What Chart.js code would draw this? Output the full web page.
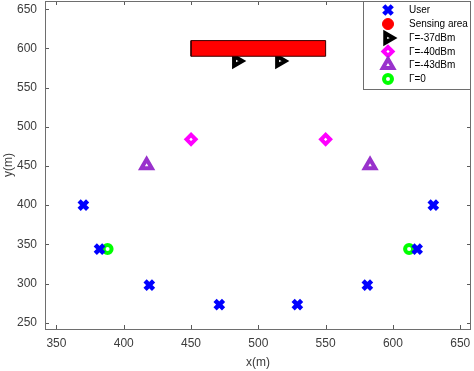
<!doctype html>
<html>
<head>
<meta charset="utf-8">
<script src="https://cdn.jsdelivr.net/npm/chart.js"></script>
<style>
  html, body { margin: 0; padding: 0; background: #fff; }
  #wrap { width: 474px; height: 371px; }
</style>
</head>
<body>
<div id="wrap"><canvas id="posChart"></canvas></div>
<script>
// positions in metres
const userX = [370, 382, 419, 471, 529, 581, 618, 630];
const userY = [400, 344, 298, 273, 273, 298, 344, 400];
const senseX = [450, 550, 550, 450, 450];
const senseY = [590, 590, 610, 610, 590];
const g37X = [484, 516];
const g37Y = [584, 584];
const g40X = [450, 550];
const g40Y = [484, 484];
const g43X = [417, 583];
const g43Y = [451, 451];
const g0X = [388, 612];
const g0Y = [344, 344];
const seriesNames = ["User", "Sensing area", "\u0393=-37dBm", "\u0393=-40dBm", "\u0393=-43dBm", "\u0393=0"];

const pts = (xs, ys) => xs.map((x, i) => ({ x: x, y: ys[i] }));
const font = "'Liberation Sans', Arial, sans-serif";

// ticks inside the box on all four sides, plus the box itself
const boxTicks = {
    id: "boxTicks",
    afterDraw(chart) {
        const ctx = chart.ctx;
        const a = chart.chartArea;
        const xs = chart.scales.x, ys = chart.scales.y;
        ctx.save();
        ctx.strokeStyle = "#5a5a5a";
        ctx.lineWidth = 1;
        ctx.beginPath();
        xs.ticks.forEach((t) => {
            const px = Math.round(xs.getPixelForValue(t.value)) + 0.5;
            ctx.moveTo(px, a.bottom); ctx.lineTo(px, a.bottom - 4);
            ctx.moveTo(px, a.top); ctx.lineTo(px, a.top + 4);
        });
        ys.ticks.forEach((t) => {
            const py = Math.round(ys.getPixelForValue(t.value)) + 0.5;
            ctx.moveTo(a.left, py); ctx.lineTo(a.left + 4, py);
            ctx.moveTo(a.right, py); ctx.lineTo(a.right - 4, py);
        });
        ctx.stroke();
        ctx.strokeStyle = "#6e6e6e";
        ctx.strokeRect(Math.round(a.left) + 0.5, Math.round(a.top) + 0.5,
            Math.round(a.right - a.left) - 1, Math.round(a.bottom - a.top));
        ctx.restore();
    },
};

// legend box in the top right corner of the axes
const cornerLegend = {
    id: "cornerLegend",
    afterDraw(chart) {
        const ctx = chart.ctx;
        const a = chart.chartArea;
        const x0 = 363, y0 = Math.round(a.top), w = Math.round(a.right) - x0, h = 88;
        ctx.save();
        ctx.fillStyle = "#fff";
        ctx.fillRect(x0, y0, w, h);
        ctx.strokeStyle = "#6e6e6e";
        ctx.lineWidth = 1;
        ctx.strokeRect(x0 + 0.5, y0 + 0.5, w - 1, h);
        const rows = [10, 24, 38, 51.5, 65, 79];
        chart.data.datasets.forEach((ds, i) => {
            const m = ds.legendMarker;
            ctx.save();
            ctx.fillStyle = m.fill;
            ctx.strokeStyle = m.stroke;
            ctx.lineWidth = m.borderWidth;
            Chart.helpers.drawPoint(ctx, {
                pointStyle: m.style,
                radius: m.radius,
                rotation: m.rotation || 0,
                borderWidth: m.borderWidth,
            }, 388, rows[i]);
            ctx.restore();
            ctx.fillStyle = "#000";
            ctx.font = "10px " + font;
            ctx.textBaseline = "middle";
            ctx.fillText(seriesNames[i], 409, rows[i] + 0.5);
        });
        ctx.restore();
    },
};

function noOverflow(scale) {
    scale.paddingLeft = 0;
    scale.paddingRight = 0;
    scale.paddingTop = 0;
    scale.paddingBottom = 0;
}

const ctx = document.getElementById("posChart").getContext("2d");
new Chart(ctx, {
    type: "scatter",
    data: {
        datasets: [
            {
                label: seriesNames[0],
                data: pts(userX, userY),
                pointStyle: "crossRot",
                pointRadius: 6,
                borderWidth: 4.5,
                borderColor: "#0000ff",
                backgroundColor: "#0000ff",
                legendMarker: { style: "crossRot", radius: 6, borderWidth: 4.5, fill: "#0000ff", stroke: "#0000ff" },
            },
            {
                label: seriesNames[1],
                data: pts(senseX, senseY),
                showLine: true,
                fill: "shape",
                pointRadius: 0,
                borderWidth: 1,
                borderColor: "#3a0000",
                backgroundColor: "#ff0000",
                legendMarker: { style: "circle", radius: 5.5, borderWidth: 1, fill: "#ff0000", stroke: "#ff0000" },
            },
            {
                label: seriesNames[2],
                data: pts(g37X, g37Y),
                pointStyle: "triangle",
                rotation: 90,
                pointRadius: 5.5,
                borderWidth: 4,
                borderColor: "#000000",
                backgroundColor: "#ffffff",
                legendMarker: { style: "triangle", rotation: 90, radius: 5.5, borderWidth: 4, fill: "#fff", stroke: "#000" },
            },
            {
                label: seriesNames[3],
                data: pts(g40X, g40Y),
                pointStyle: "rectRot",
                pointRadius: 4.5,
                borderWidth: 4,
                borderColor: "#ff00ff",
                backgroundColor: "#ffffff",
                legendMarker: { style: "rectRot", radius: 4.5, borderWidth: 4, fill: "#fff", stroke: "#ff00ff" },
            },
            {
                label: seriesNames[4],
                data: pts(g43X, g43Y),
                pointStyle: "triangle",
                pointRadius: 6,
                borderWidth: 4,
                borderColor: "#9932cc",
                backgroundColor: "#ffffff",
                legendMarker: { style: "triangle", radius: 6, borderWidth: 4, fill: "#fff", stroke: "#9932cc" },
            },
            {
                label: seriesNames[5],
                data: pts(g0X, g0Y),
                pointStyle: "circle",
                pointRadius: 4,
                borderWidth: 4,
                borderColor: "#00ff00",
                backgroundColor: "#ffffff",
                legendMarker: { style: "circle", radius: 4, borderWidth: 4, fill: "#fff", stroke: "#00ff00" },
            },
        ],
    },
    options: {
        responsive: true,
        maintainAspectRatio: false,
        animation: false,
        layout: { autoPadding: false, padding: { top: 1, right: 3, left: 0, bottom: 0 } },
        plugins: {
            legend: { display: false },
            tooltip: { enabled: false },
        },
        scales: {
            x: {
                type: "linear",
                min: 341.5,
                max: 658,
                grid: { display: false, drawTicks: false },
                border: { display: false },
                ticks: {
                    stepSize: 50,
                    includeBounds: false,
                    padding: 7,
                    color: "#3c3c3c",
                    font: { family: font, size: 12 },
                },
                title: {
                    display: true,
                    text: "x(m)",
                    color: "#3c3c3c",
                    font: { family: font, size: 12 },
                    padding: { top: 0, bottom: 1 },
                },
                afterFit(scale) { scale.height = 42; noOverflow(scale); },
            },
            y: {
                type: "linear",
                min: 242,
                max: 660.5,
                grid: { display: false, drawTicks: false },
                border: { display: false },
                ticks: {
                    stepSize: 50,
                    includeBounds: false,
                    padding: 8,
                    color: "#3c3c3c",
                    font: { family: font, size: 12 },
                },
                title: {
                    display: true,
                    text: "y(m)",
                    color: "#3c3c3c",
                    font: { family: font, size: 12 },
                    padding: { top: 1, bottom: 0 },
                },
                afterFit(scale) { scale.width = 45; noOverflow(scale); },
            },
        },
    },
    plugins: [boxTicks, cornerLegend],
});
</script>
</body>
</html>
